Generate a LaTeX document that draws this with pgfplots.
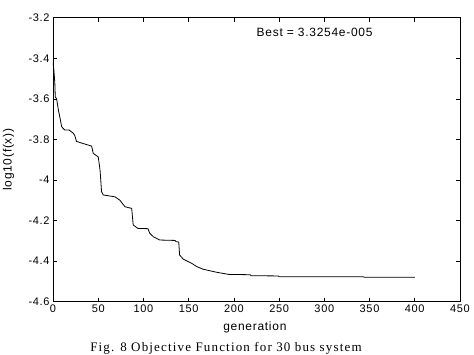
\documentclass[border=0pt]{standalone}
\usepackage{pgfplots}
\pgfplotsset{compat=1.18}
\usepackage{fontspec}
\setmainfont{Liberation Sans}[LetterSpace=6]
\newfontfamily\capfont{Liberation Serif}[LetterSpace=9]
\begin{document}
\begin{tikzpicture}
\path[use as bounding box, clip] (-53pt,-53.3pt) rectangle (421pt,301.7pt);
\fill[white] (-53pt,-53.3pt) rectangle (421pt,301.7pt);
\begin{axis}[
  scale only axis,
  width=407pt, height=284pt,
  xmin=0, xmax=450, ymin=-4.6, ymax=-3.2,
  xtick={0,50,...,450},
  ytick={-4.6,-4.4,-4.2,-4,-3.8,-3.6,-3.4,-3.2},
  yticklabels={-4.6,-4.4,-4.2,-4,-3.8,-3.6,-3.4,-3.2},
  tick align=inside,
  major tick length=4pt,
  axis line style={black, line width=0.8pt},
  every tick/.style={black, line width=0.6pt},
  tick label style={font=\fontsize{11}{13}\selectfont},
  /pgf/number format/assume math mode=true,
  xlabel={generation},
  ylabel={log10(f(x))},
  label style={font=\fontsize{12}{14}\selectfont},
  xlabel style={at={(axis description cs:0.496,-0.089)}, anchor=center},
  ylabel style={at={(axis description cs:-0.109,0.5)}, anchor=center},
]
\addplot[black, line width=0.8pt] coordinates {
(0,-3.42) (1,-3.46) (2,-3.52) (2.5,-3.59) (4,-3.60) (6,-3.656) (8,-3.70) (9.6,-3.738)
(13,-3.754) (18,-3.754) (22.5,-3.77) (24,-3.78) (26,-3.81) (31.7,-3.818)
(42.7,-3.833) (44.5,-3.869) (50,-3.886) (52,-3.95) (53.7,-4.058) (55.6,-4.074)
(68.5,-4.083) (74,-4.10) (79.6,-4.132) (87,-4.14) (88.7,-4.222) (94,-4.239)
(105,-4.24) (107,-4.263) (111,-4.28) (118,-4.296) (135,-4.298) (136,-4.304)
(139,-4.306) (140,-4.37) (144,-4.39) (153,-4.41) (159,-4.427) (166,-4.44)
(181,-4.455) (195,-4.466) (203,-4.466) (218,-4.467) (219,-4.472) (249,-4.473)
(250,-4.477) (343,-4.477) (344,-4.479) (400,-4.479)
};
\node[anchor=west, font=\fontsize{12}{14}\selectfont, inner sep=0pt] at (axis cs:225,-3.271) {Best = 3.3254e-005};
\end{axis}
\node[anchor=south, inner sep=0pt, font=\capfont\fontsize{13}{15}\selectfont] at (173pt,-52.5pt) {Fig. 8 Objective Function for 30 bus system};
\end{tikzpicture}
\end{document}
